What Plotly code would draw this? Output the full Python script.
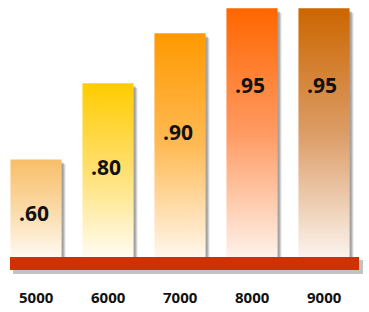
import plotly.graph_objects as go

# ---- data ----
categories = ["5000", "6000", "7000", "8000", "9000"]
value_labels = [".60", ".80", ".90", ".95", ".95"]
bar_heights = [0.39, 0.695, 0.895, 0.995, 0.995]
label_levels = [0.176, 0.36, 0.50, 0.688, 0.688]
top_colors = ["#F8BE68", "#FFCC00", "#FF9900", "#FF6600", "#CC6600"]
mid_colors = ["#FBD9A6", "#FFE070", "#FFBA55", "#FF9A62", "#DC9C66"]
bottom_colors = ["#FFF9F0", "#FFFCF2", "#FFF7EC", "#FEF2EA", "#FBF3EC"]

# ---- style ----
W, H = 369, 312
half_w = 0.355
px_y = 1 / 250.0          # one pixel in y units
px_x = 1 / 72.0           # one pixel in x units

fig = go.Figure()

xs = list(range(len(categories)))

# shadows
for i, h in zip(xs, bar_heights):
    for off, alpha in [(4, 0.12), (3, 0.2), (2, 0.25)]:
        x0 = i - half_w + off * px_x
        x1 = i + half_w + off * px_x
        y1 = h - (off + 1) * px_y
        fig.add_trace(go.Scatter(
            x=[x0, x0, x1, x1, x0], y=[0, y1, y1, 0, 0],
            mode="lines", line=dict(width=0), fill="toself",
            fillcolor=f"rgba(60,60,60,{alpha})", hoverinfo="skip", showlegend=False))

# bars with gradient
for i, h, tc, mc, bc in zip(xs, bar_heights, top_colors, mid_colors, bottom_colors):
    x0, x1 = i - half_w, i + half_w
    fig.add_trace(go.Scatter(
        x=[x0, x0, x1, x1, x0], y=[0, h, h, 0, 0],
        mode="lines", line=dict(width=0), fill="toself",
        fillgradient=dict(type="vertical", start=0, stop=h,
                          colorscale=[[0, bc], [0.5, mc], [1, tc]]),
        hoverinfo="skip", showlegend=False))

# base bar shadow + base bar
base_x0 = -26 * px_x
base_x1 = (359 - 36) * px_x
fig.add_shape(type="rect", x0=base_x0 + 3 * px_x, x1=base_x1 + 4 * px_x,
              y0=-17 * px_y, y1=-3 * px_y, fillcolor="rgba(80,80,80,0.35)", line_width=0, layer="above")
fig.add_shape(type="rect", x0=base_x0, x1=base_x1,
              y0=-13 * px_y, y1=0, fillcolor="#CC3300", line_width=0, layer="above")

# value labels
for i, t, ly in zip(xs, value_labels, label_levels):
    fig.add_annotation(x=i, y=ly, text=t, showarrow=False, xshift=-2,
                       font=dict(family="Open Sans", size=21, color="#111111", weight="bold"))

# category labels
for i, c in zip(xs, categories):
    fig.add_annotation(x=i, y=-40 * px_y, text=c, showarrow=False,
                       font=dict(family="Open Sans", size=15, color="#111111", weight="bold"))

fig.update_layout(
    width=W, height=H, margin=dict(l=0, r=0, t=0, b=0),
    paper_bgcolor="white", plot_bgcolor="white",
    xaxis=dict(range=[-0.5, (W - 36) / 72.0], visible=False, fixedrange=True),
    yaxis=dict(range=[-(H - 257) * px_y, 257 * px_y], visible=False, fixedrange=True),
    showlegend=False,
)

fig.write_html("out.html")
